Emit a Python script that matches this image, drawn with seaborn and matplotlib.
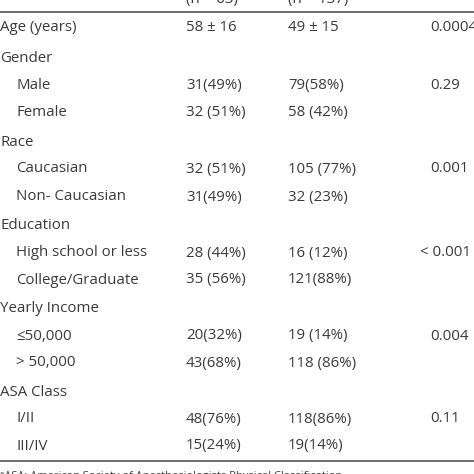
import matplotlib
matplotlib.use("Agg")
import matplotlib.pyplot as plt
import seaborn as sns

sns.set_theme(style="white")
plt.rcParams['font.family'] = ['Open Sans', 'DejaVu Sans']

labels = ["Age (years)", "Gender", "Male", "Female", "Race", "Caucasian", "Non- Caucasian",
          "Education", "High school or less", "College/Graduate", "Yearly Income",
          "\u226450,000", "> 50,000", "ASA Class", "I/II", "III/IV"]
indent = [0, 0, 1, 1, 0, 1, 1, 0, 1, 1, 0, 1, 1, 0, 1, 1]
col1 = ["58 \u00b1 16", "", "31(49%)", "32 (51%)", "", "32 (51%)", "31(49%)", "", "28 (44%)",
        "35 (56%)", "", "20(32%)", "43(68%)", "", "48(76%)", "15(24%)"]
col2 = ["49 \u00b1 15", "", "79(58%)", "58 (42%)", "", "105 (77%)", "32 (23%)", "", "16 (12%)",
        "121(88%)", "", "19 (14%)", "118 (86%)", "", "118(86%)", "19(14%)"]
pval = ["0.0004", "", "0.29", "", "", "0.001", "", "", "< 0.001", "", "", "0.004", "", "", "0.11", ""]
header = ["(n = 63)", "(n = 137)"]
rows_y = [25, 56, 83, 110, 140, 167, 195, 223, 251, 278, 307, 334, 361, 390, 417, 444]

fig = plt.figure(figsize=(4.74, 4.74), dpi=100)
ax = fig.add_axes([0, 0, 1, 1])
ax.set_xlim(0, 474)
ax.set_ylim(474, 0)
ax.axis("off")
c = "#3a3a3a"
fs = 10.8
ax.text(186, 3, header[0], fontsize=fs, color=c, va="baseline")
ax.text(288, 3, header[1], fontsize=fs, color=c, va="baseline")
ax.plot([0, 474], [12, 12], color="#555555", lw=1.2)
ax.plot([0, 474], [461, 461], color="#555555", lw=1.2)
for lab, ind, a, b, p, y in zip(labels, indent, col1, col2, pval, rows_y):
    yb = y + 5.5
    ax.text(0 + 16 * ind, yb, lab, fontsize=fs, color=c, va="baseline")
    ax.text(186, yb, a, fontsize=fs, color=c, va="baseline")
    ax.text(288, yb, b, fontsize=fs, color=c, va="baseline")
    x = 420 if p.startswith("<") else 430
    ax.text(x, yb, p, fontsize=fs, color=c, va="baseline")
ax.text(0, 476, "\u1d43ASA: American Society of Anesthesiologists Physical Classification",
        fontsize=8, color=c, va="center")
fig.savefig("out.png", dpi=100)
